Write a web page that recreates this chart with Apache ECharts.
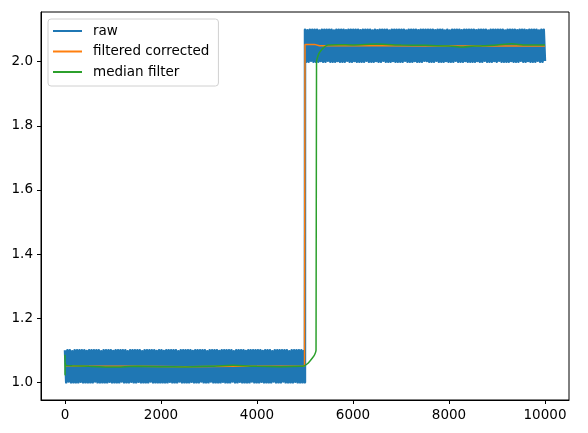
<!DOCTYPE html>
<html>
<head>
<meta charset="utf-8">
<script src="https://cdn.jsdelivr.net/npm/echarts@6/dist/echarts.min.js"></script>
<style>
  html, body { margin: 0; padding: 0; background: #fff; }
  #chart-container { width: 588px; height: 433px; }
</style>
</head>
<body>
<div id="chart-container"></div>
<script>
// raw signal, first half (samples 0..4999): envelope of a dense noisy band 1.00-1.10
var rawLow = [
  1.100,1.000,1.100,1.003,1.100,1.000,1.097,1.000,1.100,1.000,1.100,1.000,1.100,1.002,1.100,1.000,1.100,1.000,1.098,1.000,
  1.100,1.000,1.100,1.000,1.100,1.003,1.100,1.000,1.100,1.000,1.097,1.000,1.100,1.000,1.100,1.000,1.100,1.002,1.100,1.000,
  1.098,1.000,1.100,1.000,1.100,1.000,1.100,1.003,1.100,1.000,1.100,1.000,1.097,1.000,1.100,1.002,1.100,1.000,1.100,1.000,
  1.100,1.002,1.100,1.000,1.097,1.000,1.100,1.000,1.100,1.000,1.100,1.003,1.100,1.000,1.100,1.000,1.098,1.000,1.100,1.000,
  1.100,1.000,1.098,1.000,1.100,1.000,1.100,1.002,1.100,1.000,1.100,1.000,1.100,1.000,1.097,1.003,1.100,1.000,1.100,1.000,
  1.100,1.000,1.100,1.000,1.100,1.002,1.098,1.000,1.100,1.000,1.100,1.000,1.100,1.003,1.100,1.000,1.100,1.000,1.097,1.000,
  1.100,1.003,1.100,1.000,1.100,1.000,1.100,1.000,1.098,1.000,1.100,1.002,1.100,1.000,1.100,1.000,1.100,1.000,1.100,1.003,
  1.097,1.000,1.100,1.000,1.100,1.002,1.100,1.000,1.100,1.000,1.098,1.000,1.100,1.000,1.100,1.003,1.100,1.000,1.100,1.000,
  1.100,1.000,1.100,1.002,1.098,1.000,1.100,1.000,1.100,1.000,1.100,1.000,1.097,1.003,1.100,1.000,1.100,1.000,1.100,1.000,
  1.100,1.003,1.100,1.000,1.100,1.000,1.097,1.000,1.100,1.000,1.100,1.002,1.100,1.000,1.100,1.000,1.100,1.000,1.098,1.000
];
// raw signal, second half (samples 5000..9999): band 2.00-2.10
var rawHigh = [
  2.100,2.000,2.098,2.000,2.100,2.003,2.100,2.000,2.100,2.000,2.100,2.000,2.097,2.002,2.100,2.000,2.100,2.000,2.100,2.003,
  2.100,2.000,2.100,2.000,2.097,2.000,2.100,2.002,2.100,2.000,2.100,2.000,2.100,2.000,2.098,2.003,2.100,2.000,2.100,2.000,
  2.100,2.002,2.100,2.000,2.100,2.000,2.098,2.000,2.100,2.000,2.100,2.003,2.100,2.000,2.100,2.000,2.097,2.000,2.100,2.002,
  2.098,2.000,2.100,2.000,2.100,2.003,2.100,2.000,2.100,2.000,2.097,2.000,2.100,2.002,2.100,2.000,2.100,2.000,2.100,2.000,
  2.100,2.000,2.100,2.003,2.097,2.000,2.100,2.000,2.100,2.000,2.100,2.002,2.100,2.000,2.098,2.000,2.100,2.000,2.100,2.003,
  2.100,2.002,2.100,2.000,2.100,2.000,2.100,2.000,2.098,2.003,2.100,2.000,2.100,2.000,2.100,2.000,2.097,2.002,2.100,2.000,
  2.097,2.000,2.100,2.000,2.100,2.003,2.100,2.000,2.100,2.000,2.098,2.000,2.100,2.002,2.100,2.000,2.100,2.000,2.100,2.000,
  2.100,2.000,2.098,2.002,2.100,2.000,2.100,2.000,2.100,2.003,2.100,2.000,2.097,2.000,2.100,2.000,2.100,2.002,2.100,2.000,
  2.100,2.003,2.100,2.000,2.100,2.000,2.097,2.000,2.100,2.000,2.100,2.002,2.100,2.000,2.100,2.000,2.098,2.000,2.100,2.003,
  2.100,2.000,2.100,2.000,2.098,2.002,2.100,2.000,2.100,2.000,2.100,2.000,2.100,2.003,2.097,2.000,2.100,2.000,2.100,2.002
];

// filtered corrected: [sample, value]
var filteredCorrected = [
  [0, 1.052], [500, 1.05], [1500, 1.05], [2500, 1.049], [3500, 1.05], [4500, 1.05],
  [4990, 1.051], [5000, 2.054], [5200, 2.054], [5300, 2.05], [6500, 2.05], [8000, 2.049], [9999, 2.049]
];

// median filter: [sample, value]
var medianFilter = [
  [0, 1.086], [1, 1.022], [4, 1.06], [20, 1.053], [150, 1.052], [500, 1.05], [1000, 1.048],
  [1500, 1.05], [2000, 1.049], [2500, 1.048], [3000, 1.05], [3500, 1.053], [4000, 1.05],
  [4500, 1.049], [4900, 1.05], [4990, 1.052], [5050, 1.058], [5100, 1.066], [5150, 1.075],
  [5200, 1.086], [5230, 1.1], [5240, 2.0], [5270, 2.018], [5300, 2.028], [5360, 2.04],
  [5420, 2.048], [5480, 2.052], [5700, 2.053], [6000, 2.052], [6500, 2.055], [7000, 2.052],
  [7500, 2.051], [8000, 2.049], [8300, 2.046], [8700, 2.05], [9000, 2.052], [9300, 2.056],
  [9600, 2.052], [9999, 2.052]
];

var xTicks = [0, 2000, 4000, 6000, 8000, 10000];
var yTicks = [1.0, 1.2, 1.4, 1.6, 1.8, 2.0];

// sample index of every raw point
var rawData = [];
rawLow.forEach(function (v, i) { rawData.push([i * 4999 / (rawLow.length - 1), v]); });
rawHigh.forEach(function (v, i) { rawData.push([5000 + i * 4999 / (rawHigh.length - 1), v]); });

var dom = document.getElementById('chart-container');
var myChart = echarts.init(dom, null, { renderer: 'canvas' });

var fontFamily = 'DejaVu Sans';

var option = {
  animation: false,
  grid: {
    left: 41, right: 19, top: 12, bottom: 33,
    show: true, borderColor: '#000', borderWidth: 1
  },
  legend: {
    orient: 'vertical',
    left: 48, top: 19,
    padding: [5, 9, 7, 5],
    itemGap: 6.5,
    itemWidth: 29,
    itemHeight: 2,
    icon: 'rect',
    borderColor: '#d0d0d0', borderWidth: 1, borderRadius: 3,
    backgroundColor: 'rgba(255,255,255,0.8)',
    textStyle: { fontFamily: fontFamily, fontSize: 13.5, color: '#000', padding: [0, 0, 0, 6] },
    data: ['raw', 'filtered corrected', 'median filter']
  },
  xAxis: {
    type: 'value', min: -500, max: 10500,
    splitLine: { show: false },
    axisLine: { onZero: false, lineStyle: { color: '#000' } },
    axisTick: { customValues: xTicks, length: 4, lineStyle: { color: '#000' } },
    axisLabel: {
      customValues: xTicks, margin: 8, color: '#000', fontFamily: fontFamily, fontSize: 13.5,
      formatter: function (v) { return String(v); }
    }
  },
  yAxis: {
    type: 'value', min: 0.945, max: 2.155,
    splitLine: { show: false },
    axisLine: { show: true, onZero: false, lineStyle: { color: '#000' } },
    axisTick: { show: true, customValues: yTicks, length: 4, lineStyle: { color: '#000' } },
    axisLabel: {
      customValues: yTicks, margin: 8, color: '#000', fontFamily: fontFamily, fontSize: 13.5,
      formatter: function (v) { return v.toFixed(1); }
    }
  },
  series: [
    {
      name: 'raw', type: 'line', data: rawData, symbol: 'none',
      color: '#1f77b4', lineStyle: { width: 2.5, join: 'round', color: '#1f77b4' }
    },
    {
      name: 'filtered corrected', type: 'line', data: filteredCorrected, symbol: 'none',
      color: '#ff7f0e', lineStyle: { width: 1.5, color: '#ff7f0e' }
    },
    {
      name: 'median filter', type: 'line', data: medianFilter, symbol: 'none', smooth: 0.2,
      color: '#2ca02c', lineStyle: { width: 1.5, color: '#2ca02c' }
    }
  ]
};

if (option && typeof option === 'object') {
  myChart.setOption(option);
}

window.addEventListener('resize', myChart.resize);
</script>
</body>
</html>
